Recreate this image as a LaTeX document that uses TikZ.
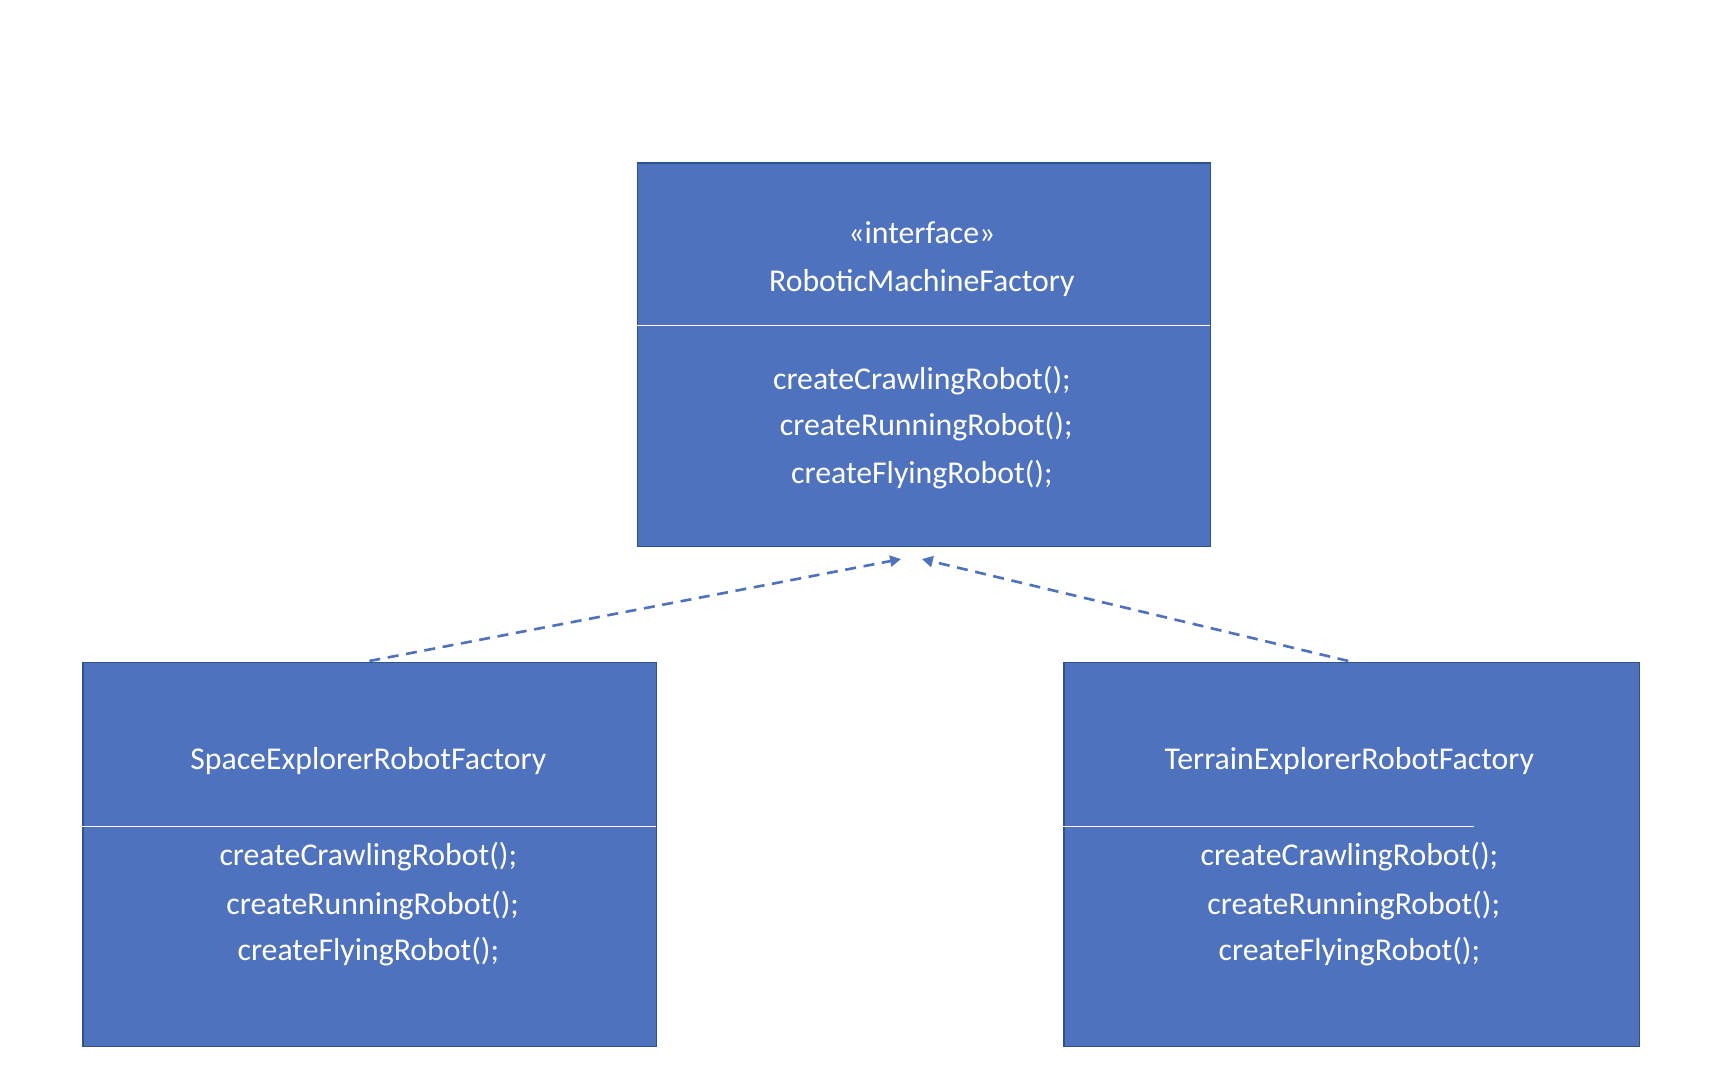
\documentclass[tikz,border=0pt]{standalone}
\usepackage{fontspec}
\setmainfont{Carlito}
\usetikzlibrary{arrows.meta}
\definecolor{boxfill}{HTML}{4F72BE}
\definecolor{boxline}{HTML}{2F528F}
\begin{document}
\begin{tikzpicture}[x=1pt,y=-1pt,
  cls/.style={fill=boxfill,draw=boxline,line width=1.2pt},
  sep/.style={draw=white,line width=1.2pt},
  txt/.style={text=white,font=\fontsize{29}{36}\selectfont,inner sep=0pt,anchor=base},
  dep/.style={draw=boxfill,line width=2.4pt,dash pattern=on 10pt off 7pt,-{Triangle[length=10pt,width=10pt]}}]
\useasboundingbox (0,0) rectangle (1560,991);
\node[cls,minimum width=523pt,minimum height=350pt,inner sep=0pt,anchor=north west] (top) at (581,148) {};
\node[cls,minimum width=523pt,minimum height=350pt,inner sep=0pt,anchor=north west] (left) at (75,604) {};
\node[cls,minimum width=525pt,minimum height=350pt,inner sep=0pt,anchor=north west] (right) at (970,604) {};
\coordinate (tsa) at (581,297); \coordinate (tsb) at (1104,297);
\coordinate (lsa) at (75,754); \coordinate (lsb) at (598,754);
\coordinate (rsa) at (970,754); \coordinate (rsb) at (1345,754);
\draw[sep] (tsa) -- (tsb);
\draw[sep] (lsa) -- (lsb);
\draw[sep] (rsa) -- (rsb);
\node[txt] (t1) at (841,222) {<<interface>>};
\node[txt] (t2) at (841,266) {RoboticMachineFactory};
\node[txt] (t3) at (841,355) {createCrawlingRobot();};
\node[txt] (t4) at (845,397) {createRunningRobot();};
\node[txt] (t5) at (841,441) {createFlyingRobot();};
\node[txt] (l1) at (336,702) {SpaceExplorerRobotFactory};
\node[txt] (l2) at (336,790) {createCrawlingRobot();};
\node[txt] (l3) at (340,834) {createRunningRobot();};
\node[txt] (l4) at (336,876) {createFlyingRobot();};
\node[txt] (r1) at (1231,702) {TerrainExplorerRobotFactory};
\node[txt] (r2) at (1231,790) {createCrawlingRobot();};
\node[txt] (r3) at (1235,834) {createRunningRobot();};
\node[txt] (r4) at (1231,876) {createFlyingRobot();};
\coordinate (la) at (337,603); \coordinate (lt) at (822,510);
\coordinate (ra) at (1230,603); \coordinate (rt) at (841,510);
\draw[dep] (la) -- (lt);
\draw[dep] (ra) -- (rt);
\end{tikzpicture}
\end{document}
